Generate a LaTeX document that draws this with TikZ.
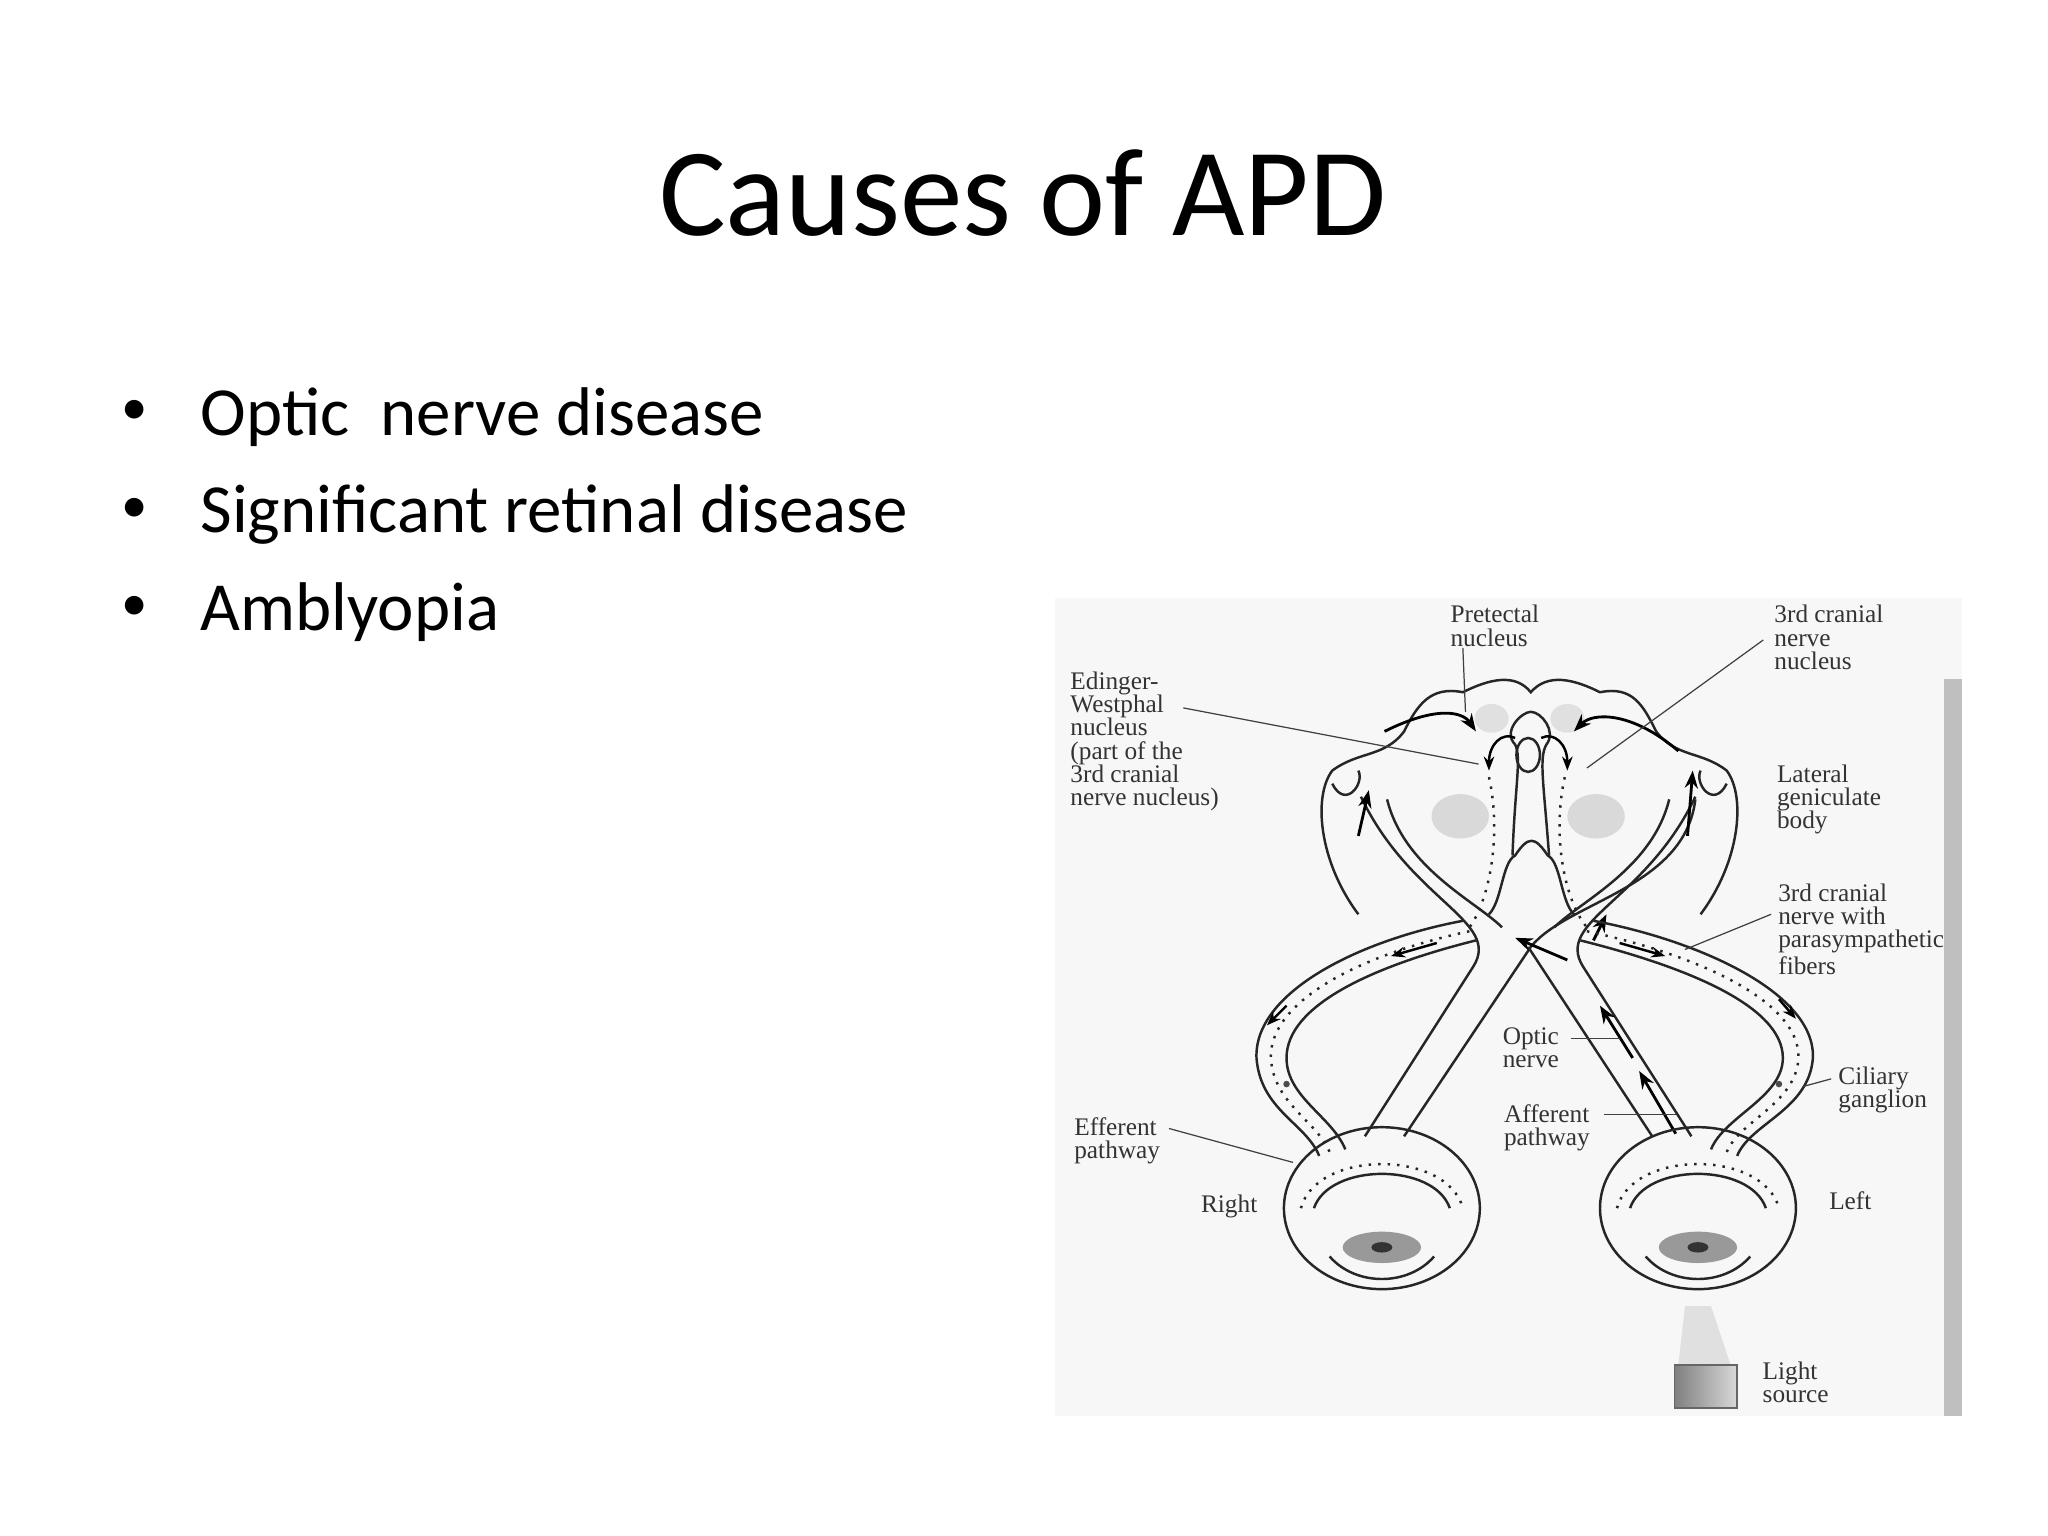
\documentclass[tikz,border=0pt]{standalone}
\usepackage{fontspec}
\setmainfont{Carlito}
\newfontfamily\lab{Liberation Serif}
\usetikzlibrary{arrows.meta}
\begin{document}
\begin{tikzpicture}[x=0.01306cm,y=-0.01306cm,
  lbl/.style={font=\lab\fontsize{7.2}{6.6}\selectfont,align=left,inner sep=0pt,anchor=north west,text=black!80},
  lead/.style={draw=black!75,line width=0.35pt},
  nerve/.style={draw=black!85,line width=0.7pt},
  dots/.style={draw=black!85,line width=0.7pt,dotted},
  bul/.style={font=\fontsize{19.6}{24}\selectfont,anchor=west,inner sep=0pt}]
\useasboundingbox (0,0) rectangle (1568,1176);
\fill[white] (0,0) rectangle (1568,1176);
\node (title) at (783,148) {\fontsize{35.6}{40}\selectfont Causes of APD};
\foreach \t/\y [count=\i] in {Optic\ \ nerve disease/319,Significant retinal disease/394,Amblyopia/469}{
  \node[bul] (b\i) at (153,\y) {\t};
  \node (d\i) at (103,\y-3) {\fontsize{15}{18}\selectfont\textbullet};
}
% figure background
\fill[black!3] (808,458) rectangle (1502,1084);
\fill[black!25] (1488,520) rectangle (1502,1084);
% gray blobs
\fill[black!15] (1118,625) ellipse (22 and 17);
\fill[black!15] (1222,625) ellipse (22 and 17);
\fill[black!12] (1142,550) ellipse (13 and 11);
\fill[black!12] (1200,550) ellipse (13 and 11);
% brain outline
\draw[nerve] (1040,700) .. controls (1010,660) and (1005,610) .. (1020,590)
  .. controls (1040,575) and (1060,580) .. (1075,560)
  .. controls (1085,540) and (1095,525) .. (1120,530)
  .. controls (1140,520) and (1160,515) .. (1172,530)
  .. controls (1185,515) and (1205,520) .. (1225,530)
  .. controls (1250,525) and (1258,540) .. (1268,560)
  .. controls (1283,580) and (1303,575) .. (1322,590)
  .. controls (1337,610) and (1332,660) .. (1302,700);
\draw[nerve] (1020,600) .. controls (1030,620) and (1045,600) .. (1040,590);
\draw[nerve] (1322,600) .. controls (1312,620) and (1297,600) .. (1302,590);
% central structure
\draw[nerve] (1158,655) .. controls (1160,600) and (1165,580) .. (1160,570) .. controls (1150,560) and (1165,545) .. (1172,545) .. controls (1180,545) and (1192,560) .. (1184,570) .. controls (1178,580) and (1182,600) .. (1186,655);
\draw[nerve] (1170,578) ellipse (9 and 13);
\draw[nerve] (1140,700) .. controls (1150,690) and (1150,660) .. (1160,655) .. controls (1170,640) and (1175,640) .. (1185,655) .. controls (1195,660) and (1195,690) .. (1205,700);
% optic nerves X
\draw[nerve] (1045,870) -- (1128,740) .. controls (1150,705) and (1080,690) .. (1042,610);
\draw[nerve] (1075,870) -- (1172,725) .. controls (1200,690) and (1290,680) .. (1298,612);
\draw[nerve] (1295,870) -- (1212,740) .. controls (1190,705) and (1260,690) .. (1298,610);
\draw[nerve] (1265,870) -- (1170,725);
\draw[nerve] (1062,612) .. controls (1075,665) and (1130,690) .. (1150,710);
\draw[nerve] (1278,612) .. controls (1265,665) and (1210,690) .. (1190,710);
% arrows on afferent path
\draw[-{Stealth[length=5pt]},line width=0.8pt] (1283,868) -- (1255,820);
\draw[-{Stealth[length=5pt]},line width=0.8pt] (1250,810) -- (1225,770);
\draw[-{Stealth[length=5pt]},line width=0.8pt] (1200,735) -- (1160,718);
\draw[-{Stealth[length=5pt]},line width=0.8pt] (1220,720) -- (1230,700);
\draw[-{Stealth[length=5pt]},line width=0.8pt] (1040,640) -- (1048,605);
\draw[-{Stealth[length=5pt]},line width=0.8pt] (1292,640) -- (1296,590);
\draw[-{Stealth[length=5pt]},line width=0.8pt] (1060,560) .. controls (1100,540) and (1120,545) .. (1130,560);
\draw[-{Stealth[length=5pt]},line width=0.8pt] (1285,575) .. controls (1250,545) and (1220,545) .. (1205,560);
\draw[-{Stealth[length=4pt]},line width=0.7pt] (1160,565) .. controls (1150,560) and (1140,570) .. (1140,590);
\draw[-{Stealth[length=4pt]},line width=0.7pt] (1180,565) .. controls (1190,560) and (1200,570) .. (1200,590);
% dotted efferent central
\draw[dots] (1140,595) .. controls (1150,640) and (1140,690) .. (1125,710);
\draw[dots] (1198,595) .. controls (1188,640) and (1198,690) .. (1215,710);
% efferent loops
\draw[nerve] (1120,705) .. controls (1040,720) and (960,760) .. (962,810) .. controls (965,850) and (1000,860) .. (1010,885);
\draw[nerve] (1130,720) .. controls (1050,740) and (985,770) .. (985,810) .. controls (985,840) and (1020,855) .. (1030,880);
\draw[dots] (1125,713) .. controls (1045,730) and (972,765) .. (973,810) .. controls (975,845) and (1008,858) .. (1018,882);
\draw[nerve] (1220,705) .. controls (1300,720) and (1390,760) .. (1388,810) .. controls (1385,850) and (1340,860) .. (1330,885);
\draw[nerve] (1210,720) .. controls (1290,740) and (1365,770) .. (1365,810) .. controls (1365,840) and (1320,855) .. (1310,880);
\draw[dots] (1215,713) .. controls (1295,730) and (1378,765) .. (1377,810) .. controls (1375,845) and (1332,858) .. (1322,882);
\draw[-{Stealth[length=4pt]},line width=0.7pt] (1240,722) -- (1275,732);
\draw[-{Stealth[length=4pt]},line width=0.7pt] (1362,765) -- (1375,780);
\draw[-{Stealth[length=4pt]},line width=0.7pt] (1100,722) -- (1065,732);
\draw[-{Stealth[length=4pt]},line width=0.7pt] (985,770) -- (970,785);
\fill[black!70] (985,830) circle (2.5); \fill[black!70] (1362,830) circle (2.5);
% eyes
\foreach \cx/\nm in {1058/re,1300/le}{
  \draw[nerve] (\cx,925) ellipse (75 and 62);
  \draw[nerve] (\cx-52,925) .. controls (\cx-40,890) and (\cx+40,890) .. (\cx+52,925);
  \draw[dots] (\cx-62,925) .. controls (\cx-50,880) and (\cx+50,880) .. (\cx+62,925);
  \draw[nerve] (\cx-40,962) .. controls (\cx-20,985) and (\cx+20,985) .. (\cx+40,962);
  \fill[black!40] (\cx,955) ellipse (30 and 12);
  \fill[black!80] (\cx,955) ellipse (8 and 4);
  \coordinate (\nm) at (\cx,925);
}
% light source
\fill[black!12] (1290,1000) -- (1310,1000) -- (1325,1045) -- (1285,1045) -- cycle;
\shade[left color=black!50,right color=black!15] (1282,1045) rectangle (1330,1078);
\draw[black!60] (1282,1045) rectangle (1330,1078);
% labels
\node[lbl] (pre) at (1110,463) {Pretectal\\nucleus};
\node[lbl] (cn3) at (1358,463) {3rd cranial\\nerve\\nucleus};
\node[lbl] (ew) at (819,514) {Edinger-\\Westphal\\nucleus\\(part of the\\3rd cranial\\nerve nucleus)};
\node[lbl] (lgb) at (1360,585) {Lateral\\geniculate\\body};
\node[lbl] (cnp) at (1361,676) {3rd cranial\\nerve with\\parasympathetic\\fibers};
\node[lbl] (on) at (1150,786) {Optic\\nerve};
\node[lbl] (cg) at (1407,816) {Ciliary\\ganglion};
\node[lbl] (af) at (1151,845) {Afferent\\pathway};
\node[lbl] (ef) at (822,855) {Efferent\\pathway};
\node[lbl] (rt) at (919,914) {Right};
\node[lbl] (lt) at (1400,912) {Left};
\node[lbl] (ls) at (1349,1042) {Light\\source};
\coordinate (p1) at (1122,545); \coordinate (p2) at (1215,588);
\coordinate (p3) at (1132,585); \coordinate (p4) at (1290,727);
\coordinate (p5) at (1240,795); \coordinate (p6) at (1380,832);
\coordinate (p7) at (1283,853); \coordinate (p8) at (990,890);
\draw[lead] (1120,496) -- (p1);
\draw[lead] (1350,490) -- (p2);
\draw[lead] (906,542) -- (p3);
\draw[lead] (1356,700) -- (p4);
\draw[lead] (1203,795) -- (p5);
\draw[lead] (1402,826) -- (p6);
\draw[lead] (1228,853) -- (p7);
\draw[lead] (895,864) -- (p8);
\end{tikzpicture}
\end{document}
